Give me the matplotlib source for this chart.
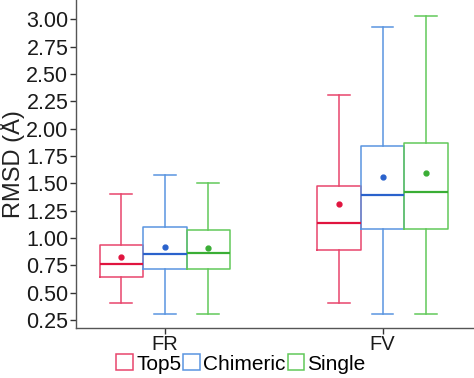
"""
Box plots of RMSD for the FR and FV regions, comparing the Top5, Chimeric and
Single models (boxes with whiskers, median line and mean dot).
"""
import matplotlib
matplotlib.use("Agg")
import matplotlib.pyplot as plt
from matplotlib.patches import Rectangle

plt.rcParams["font.family"] = ["Liberation Sans", "DejaVu Sans"]

REGIONS = ["FR", "FV"]
MODELS = ["Top5", "Chimeric", "Single"]

# per model, per region: [whisker low, q1, median, q3, whisker high]
TOP5_STATS = [[0.41, 0.64, 0.76, 0.94, 1.40], [0.41, 0.89, 1.14, 1.48, 2.31]]
CHIMERIC_STATS = [[0.31, 0.72, 0.855, 1.105, 1.58], [0.31, 1.085, 1.39, 1.845, 2.93]]
SINGLE_STATS = [[0.31, 0.715, 0.86, 1.07, 1.50], [0.31, 1.085, 1.42, 1.865, 3.03]]
TOP5_MEANS = [0.83, 1.31]
CHIMERIC_MEANS = [0.92, 1.56]
SINGLE_MEANS = [0.91, 1.59]

Y_TICKS = [0.25, 0.50, 0.75, 1.00, 1.25, 1.50, 1.75, 2.00, 2.25, 2.50, 2.75, 3.00]

COLORS = {
    "Top5": ("#e8456c", "#e0143f"),
    "Chimeric": ("#5a95e0", "#2a62cc"),
    "Single": ("#62c95a", "#3aae35"),
}


def make_stats(rows, means):
    stats = []
    for (lo, q1, med, q3, hi), mean in zip(rows, means):
        stats.append(dict(whislo=lo, q1=q1, med=med, q3=q3, whishi=hi,
                          mean=mean, fliers=[]))
    return stats


def main():
    fig = plt.figure(figsize=(4.74, 3.78), dpi=100)
    ax = fig.add_axes([76 / 474, 1 - 328 / 378, 1 - 76 / 474, 328 / 378])

    all_stats = [
        make_stats(TOP5_STATS, TOP5_MEANS),
        make_stats(CHIMERIC_STATS, CHIMERIC_MEANS),
        make_stats(SINGLE_STATS, SINGLE_MEANS),
    ]
    width = 0.2
    offsets = [-width, 0.0, width]
    for model, stats, off in zip(MODELS, all_stats, offsets):
        line_c, dark_c = COLORS[model]
        positions = [i + 1 + off for i in range(len(REGIONS))]
        ax.bxp(
            stats, positions=positions, widths=width, capwidths=width / 2,
            showmeans=True, showfliers=False, patch_artist=False,
            boxprops=dict(color=line_c, linewidth=1.1),
            whiskerprops=dict(color=line_c, linewidth=1.1),
            capprops=dict(color=line_c, linewidth=1.1),
            medianprops=dict(color=dark_c, linewidth=1.6),
            meanprops=dict(marker="o", markersize=3.5, markerfacecolor=dark_c,
                           markeredgecolor=dark_c),
        )

    ax.set_xlim(0.592, 2.42)
    ax.set_ylim(0.178, 3.175)
    ax.set_xticks([1, 2])
    ax.set_xticklabels(REGIONS)
    ax.set_yticks(Y_TICKS)
    ax.set_yticklabels([f"{t:.2f}" for t in Y_TICKS])
    ax.set_ylabel("RMSD (Å)", fontsize=17, color="#222222", labelpad=1)

    for side in ("top", "right"):
        ax.spines[side].set_visible(False)
    for side in ("left", "bottom"):
        ax.spines[side].set_color("#555555")
        ax.spines[side].set_linewidth(1.0)
    ax.tick_params(axis="y", labelsize=15.5, colors="#333333", length=4.5,
                   width=1.0, pad=1, labelcolor="#1a1a1a")
    ax.tick_params(axis="x", labelsize=14.5, colors="#333333", length=4.5,
                   width=1.0, pad=0.5, labelcolor="#1a1a1a")

    handles = [
        Rectangle((0, 0), 1, 1, facecolor="none", edgecolor=COLORS[m][0], linewidth=1.1)
        for m in MODELS
    ]
    fig.legend(
        handles, MODELS, loc="center", bbox_to_anchor=(241 / 474, 1 - 364 / 378),
        ncol=3, frameon=False, fontsize=15, handlelength=0.8, handleheight=0.8,
        handletextpad=0.15, columnspacing=0.1, borderpad=0,
    )

    fig.savefig("out.png", dpi=100)


if __name__ == "__main__":
    main()
